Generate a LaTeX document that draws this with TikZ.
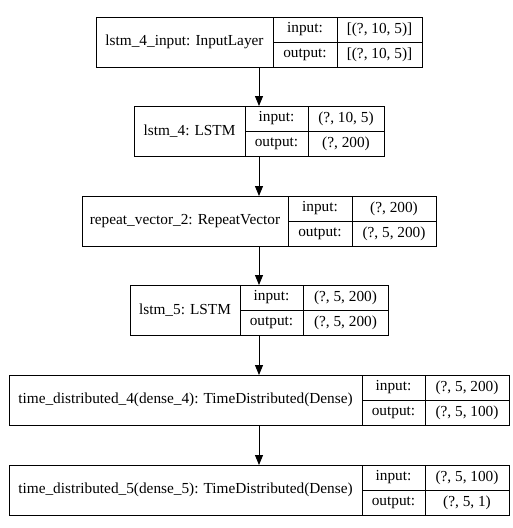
\documentclass[tikz,border=0pt]{standalone}
\usepackage{fontspec}
\setmainfont{Liberation Serif}
\usetikzlibrary{arrows.meta,positioning,calc}

\begin{document}
\begin{tikzpicture}[x=1pt, y=1pt, line width=0.9pt, >={Triangle[length=10pt,width=8pt]}]
\tikzset{
layer/.style    = {draw, shape=rectangle, anchor=north west, inner sep=0pt, outer sep=0pt, minimum height=50pt, font=\fontsize{15.3}{18}\selectfont},
field/.style    = {draw, shape=rectangle, anchor=north west, inner sep=0pt, outer sep=0pt, minimum height=25pt, font=\fontsize{15.3}{18}\selectfont},
coord/.style    = {coordinate},
}
    \useasboundingbox (0,0) rectangle (512,-528);

    % Input layer nodes
    \node [layer, minimum width=177pt]  (inp_layer)    at (96,-17)             {lstm\_4\_input: InputLayer};
    \node [field, minimum width=64pt]   (inp_in)       at (inp_layer.north east) {input:};
    \node [field, minimum width=85pt]   (inp_in_val)   at (inp_in.north east)  {[(?, 10, 5)]};
    \node [field, minimum width=64pt]   (inp_out)      at (inp_in.south west)  {output:};
    \node [field, minimum width=85pt]   (inp_out_val)  at (inp_out.north east) {[(?, 10, 5)]};

    % lstm_4 nodes
    \node [layer, minimum width=111pt]  (lstm4_layer)  at (134,-106)           {lstm\_4: LSTM};
    \node [field, minimum width=63pt]   (lstm4_in)     at (lstm4_layer.north east) {input:};
    \node [field, minimum width=76pt]   (lstm4_in_val) at (lstm4_in.north east) {(?, 10, 5)};
    \node [field, minimum width=63pt]   (lstm4_out)    at (lstm4_in.south west) {output:};
    \node [field, minimum width=76pt]   (lstm4_out_val) at (lstm4_out.north east) {(?, 200)};

    % Repeat vector nodes
    \node [layer, minimum width=206pt]  (rep_layer)    at (82,-196)            {repeat\_vector\_2: RepeatVector};
    \node [field, minimum width=64pt]   (rep_in)       at (rep_layer.north east) {input:};
    \node [field, minimum width=84pt]   (rep_in_val)   at (rep_in.north east)  {(?, 200)};
    \node [field, minimum width=64pt]   (rep_out)      at (rep_in.south west)  {output:};
    \node [field, minimum width=84pt]   (rep_out_val)  at (rep_out.north east) {(?, 5, 200)};

    % lstm_5 nodes
    \node [layer, minimum width=110pt]  (lstm5_layer)  at (130,-285)           {lstm\_5: LSTM};
    \node [field, minimum width=63pt]   (lstm5_in)     at (lstm5_layer.north east) {input:};
    \node [field, minimum width=85pt]   (lstm5_in_val) at (lstm5_in.north east) {(?, 5, 200)};
    \node [field, minimum width=63pt]   (lstm5_out)    at (lstm5_in.south west) {output:};
    \node [field, minimum width=85pt]   (lstm5_out_val) at (lstm5_out.north east) {(?, 5, 200)};

    % Dense 4 nodes
    \node [layer, minimum width=353pt]  (td4_layer)    at (9,-375)             {time\_distributed\_4(dense\_4): TimeDistributed(Dense)};
    \node [field, minimum width=63pt]   (td4_in)       at (td4_layer.north east) {input:};
    \node [field, minimum width=84pt]   (td4_in_val)   at (td4_in.north east)  {(?, 5, 200)};
    \node [field, minimum width=63pt]   (td4_out)      at (td4_in.south west)  {output:};
    \node [field, minimum width=84pt]   (td4_out_val)  at (td4_out.north east) {(?, 5, 100)};

    % Dense 5 nodes
    \node [layer, minimum width=353pt]  (td5_layer)    at (9,-465)             {time\_distributed\_5(dense\_5): TimeDistributed(Dense)};
    \node [field, minimum width=63pt]   (td5_in)       at (td5_layer.north east) {input:};
    \node [field, minimum width=84pt]   (td5_in_val)   at (td5_in.north east)  {(?, 5, 100)};
    \node [field, minimum width=63pt]   (td5_out)      at (td5_in.south west)  {output:};
    \node [field, minimum width=84pt]   (td5_out_val)  at (td5_out.north east) {(?, 5, 1)};

    % Bottom centres
    \coordinate (inp_bot)   at ($(inp_layer.south west)!.5!(inp_out_val.south east)$);
    \coordinate (lstm4_bot) at ($(lstm4_layer.south west)!.5!(lstm4_out_val.south east)$);
    \coordinate (rep_bot)   at ($(rep_layer.south west)!.5!(rep_out_val.south east)$);
    \coordinate (lstm5_bot) at ($(lstm5_layer.south west)!.5!(lstm5_out_val.south east)$);
    \coordinate (td4_bot)   at ($(td4_layer.south west)!.5!(td4_out_val.south east)$);

    % Edges
    \draw [->] (inp_bot)    -- (inp_bot |- lstm4_layer.north);
    \draw [->] (lstm4_bot)  -- (lstm4_bot |- rep_layer.north);
    \draw [->] (rep_bot)    -- (rep_bot |- lstm5_layer.north);
    \draw [->] (lstm5_bot)  -- (lstm5_bot |- td4_layer.north);
    \draw [->] (td4_bot)    -- (td4_bot |- td5_layer.north);

\end{tikzpicture}
\end{document}
